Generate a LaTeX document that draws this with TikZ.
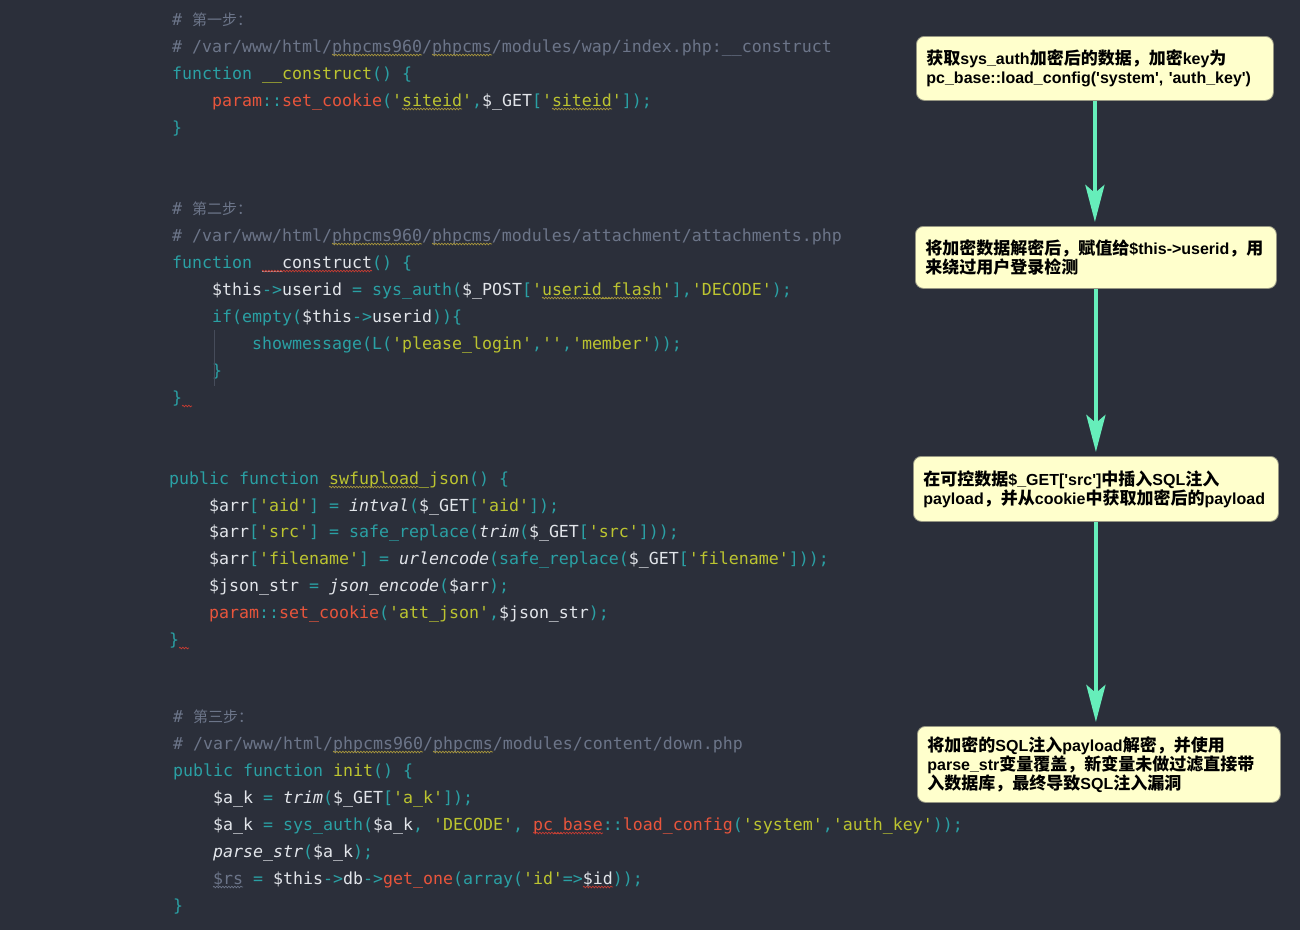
\documentclass[tikz,border=0pt]{standalone}
\usepackage{fontspec}
\setmonofont{DejaVu Sans Mono}
\newfontfamily\cjk{Noto Sans CJK SC}
\newfontfamily\boxlat[Ligatures=TeXOff]{Liberation Sans}
\usetikzlibrary{arrows.meta,decorations.pathmorphing}
\definecolor{cBg}{RGB}{43,47,58}
\definecolor{cTeal}{RGB}{42,160,164}
\definecolor{cYel}{RGB}{188,196,48}
\definecolor{cRed}{RGB}{232,85,60}
\definecolor{cWhite}{RGB}{226,229,234}
\definecolor{cCom}{RGB}{108,117,137}
\definecolor{cNote}{RGB}{255,255,204}
\definecolor{cBorder}{RGB}{150,150,130}
\definecolor{cArrow}{RGB}{102,238,186}
\definecolor{cSqY}{RGB}{168,150,60}
\definecolor{cSqR}{RGB}{200,60,50}
\definecolor{cGuide}{RGB}{70,76,90}
\newcommand\kT[1]{\textcolor{cTeal}{#1}}
\newcommand\kY[1]{\textcolor{cYel}{#1}}
\newcommand\kR[1]{\textcolor{cRed}{#1}}
\newcommand\kW[1]{\textcolor{cWhite}{#1}}
\newcommand\kG[1]{\textcolor{cCom}{#1}}
\newcommand\kI[1]{\textcolor{cWhite}{\itshape #1}}
\newcommand\zc[1]{{\cjk\fontsize{15}{15}\selectfont #1}}
\newcommand\zh[1]{{\cjk\fontsize{17}{19}\selectfont #1}}
\tikzset{
  code/.style={anchor=base west, inner sep=0pt, font=\ttfamily\fontsize{16.6}{20}\selectfont},
  squig/.style={decorate, decoration={snake, segment length=3pt, amplitude=0.8pt}, line width=0.7pt},
  note/.style={draw=cBorder, line width=0.8pt, fill=cNote, rounded corners=8pt,
    inner xsep=10pt, inner ysep=0pt, align=left, anchor=north west, text=black,
    font=\boxlat\bfseries\fontsize{16}{19}\selectfont},
  flow/.style={draw=cArrow, line width=4.5pt, -{Stealth[length=37pt,width=19pt,inset=8pt]}, shorten >=4pt}
}
\begin{document}
\begin{tikzpicture}[x=1pt,y=-1pt]
\fill[cBg] (0,0) rectangle (1300,930);
\useasboundingbox (0,0) rectangle (1300,930);

% ---- block 1
\node[code] (a1) at (172,25) {\kG{\# \zc{第一步：}}};
\node[code] (a2) at (172,52) {\kG{\# /var/www/html/phpcms960/phpcms/modules/wap/index.php:\_\_construct}};
\node[code] (a3) at (172,79) {\kT{function} \kY{\_\_construct}\kT{() \{}};
\node[code] (a4) at (212,106) {\kR{param}\kT{::}\kR{set\_cookie}\kT{(}\kY{'siteid'}\kT{,}\kW{\$\_GET}\kT{[}\kY{'siteid'}\kT{]);}};
\node[code] (a5) at (172,133) {\kT{\}}};

% ---- block 2
\node[code] (b1l) at (172,214) {\kG{\# \zc{第二步：}}};
\node[code] (b2l) at (172,241) {\kG{\# /var/www/html/phpcms960/phpcms/modules/attachment/attachments.php}};
\node[code] (b3l) at (172,268) {\kT{function} \kW{\_\_construct}\kT{() \{}};
\node[code] (b4l) at (212,295) {\kW{\$this}\kT{->}\kW{userid} \kT{=} \kT{sys\_auth(}\kW{\$\_POST}\kT{[}\kY{'userid\_flash'}\kT{],}\kY{'DECODE'}\kT{);}};
\node[code] (b5l) at (212,322) {\kT{if(empty(}\kW{\$this}\kT{->}\kW{userid}\kT{))\{}};
\node[code] (b6l) at (252,349) {\kT{showmessage(L(}\kY{'please\_login'}\kT{,}\kY{''}\kT{,}\kY{'member'}\kT{));}};
\node[code] (b7l) at (212,376) {\kT{\}}};
\node[code] (b8l) at (172,403) {\kT{\}}};

% ---- block 3
\node[code] (c1) at (169,484) {\kT{public function} \kY{swfupload\_json}\kT{() \{}};
\node[code] (c2) at (209,511) {\kW{\$arr}\kT{[}\kY{'aid'}\kT{]} \kT{=} \kI{intval}\kT{(}\kW{\$\_GET}\kT{[}\kY{'aid'}\kT{]);}};
\node[code] (c3) at (209,537) {\kW{\$arr}\kT{[}\kY{'src'}\kT{]} \kT{=} \kT{safe\_replace(}\kI{trim}\kT{(}\kW{\$\_GET}\kT{[}\kY{'src'}\kT{]));}};
\node[code] (c4) at (209,564) {\kW{\$arr}\kT{[}\kY{'filename'}\kT{]} \kT{=} \kI{urlencode}\kT{(safe\_replace(}\kW{\$\_GET}\kT{[}\kY{'filename'}\kT{]));}};
\node[code] (c5) at (209,591) {\kW{\$json\_str} \kT{=} \kI{json\_encode}\kT{(}\kW{\$arr}\kT{);}};
\node[code] (c6) at (209,618) {\kR{param}\kT{::}\kR{set\_cookie}\kT{(}\kY{'att\_json'}\kT{,}\kW{\$json\_str}\kT{);}};
\node[code] (c7) at (169,645) {\kT{\}}};

% ---- block 4
\node[code] (d1) at (173,722) {\kG{\# \zc{第三步：}}};
\node[code] (d2) at (173,749) {\kG{\# /var/www/html/phpcms960/phpcms/modules/content/down.php}};
\node[code] (d3) at (173,776) {\kT{public function} \kY{init}\kT{() \{}};
\node[code] (d4) at (213,803) {\kW{\$a\_k} \kT{=} \kI{trim}\kT{(}\kW{\$\_GET}\kT{[}\kY{'a\_k'}\kT{]);}};
\node[code] (d5) at (213,830) {\kW{\$a\_k} \kT{=} \kT{sys\_auth(}\kW{\$a\_k}\kT{,} \kY{'DECODE'}\kT{,} \kR{pc\_base}\kT{::}\kR{load\_config}\kT{(}\kY{'system'}\kT{,}\kY{'auth\_key'}\kT{));}};
\node[code] (d6) at (213,857) {\kI{parse\_str}\kT{(}\kW{\$a\_k}\kT{);}};
\node[code] (d7) at (213,884) {\kG{\$rs} \kT{=} \kW{\$this}\kT{->}\kW{db}\kT{->}\kR{get\_one}\kT{(array(}\kY{'id'}\kT{=>}\kW{\$id}\kT{));}};
\node[code] (d8) at (173,911) {\kT{\}}};

% ---- squiggly underlines
\draw[squig, cSqY] (332,55) -- (422,55);
\draw[squig, cSqY] (432,55) -- (492,55);
\draw[squig, cSqY] (402,109) -- (462,109);
\draw[squig, cSqY] (552,109) -- (612,109);
\draw[squig, cSqY] (332,244) -- (422,244);
\draw[squig, cSqY] (432,244) -- (492,244);
\draw[squig, cSqR] (262,271) -- (372,271);
\draw[squig, cSqY] (542,298) -- (662,298);
\draw[squig, cSqR] (182,406) -- (192,406);
\draw[squig, cSqY] (329,487) -- (419,487);
\draw[squig, cSqR] (179,648) -- (189,648);
\draw[squig, cSqY] (333,752) -- (423,752);
\draw[squig, cSqY] (433,752) -- (493,752);
\draw[squig, cSqR] (533,833) -- (603,833);
\draw[squig, cCom] (213,887) -- (243,887);
\draw[squig, cSqR] (583,887) -- (613,887);

% indent guide
\draw[cGuide, line width=1pt] (214,330) -- (214,386);

% ---- callouts
\node[note, text width=337pt, minimum height=64pt] (n1) at (916,36)
  {\zh{获取}sys\_auth\zh{加密后的数据，加密}key\zh{为}\\pc\_base::load\_config('system', 'auth\_key')};
\node[note, text width=341pt, minimum height=62pt] (n2) at (915,226)
  {\zh{将加密数据解密后，赋值给}\$this->userid\zh{，用}\\\zh{来绕过用户登录检测}};
\node[note, text width=345pt, minimum height=65pt] (n3) at (913,456)
  {\zh{在可控数据}\$\_GET['src']\zh{中插入}SQL\zh{注入}\\payload\zh{，并从}cookie\zh{中获取加密后的}payload};
\node[note, text width=343pt, minimum height=76pt] (n4) at (917,726)
  {\zh{将加密的}SQL\zh{注入}payload\zh{解密，并使用}\\parse\_str\zh{变量覆盖，新变量未做过滤直接带}\\\zh{入数据库，最终导致}SQL\zh{注入漏洞}};

% ---- arrows
\draw[flow] (n1.south) -- (n1.south |- n2.north);
\draw[flow] (n2.south) -- (n2.south |- n3.north);
\draw[flow] (n3.south) -- (n3.south |- n4.north);
\end{tikzpicture}
\end{document}
